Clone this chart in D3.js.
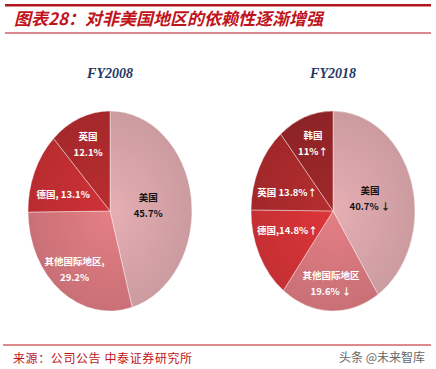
<!DOCTYPE html>
<html>
<head>
<meta charset="utf-8">
<script src="https://cdn.jsdelivr.net/npm/d3@7"></script>
<style>
  html, body { margin: 0; padding: 0; background: #fff; }
  svg { display: block; }
</style>
</head>
<body>
<div id="chart"></div>
<script>
// data
const regions2008 = ['美国', '其他国际地区', '德国', '英国'];
const shares2008 = [45.7, 29.2, 13.1, 12.1];
const labels2008 = [['美国', '45.7%'], ['其他国际地区,', '29.2%'], ['德国, 13.1%'], ['英国', '12.1%']];

const regions2018 = ['美国', '其他国际地区', '德国', '英国', '韩国'];
const shares2018 = [40.7, 19.6, 14.8, 13.8, 11.0];
const labels2018 = [['美国', '40.7% ↓'], ['其他国际地区', '19.6% ↓'], ['德国,14.8%↑'], ['英国 13.8%↑'], ['韩国', '11%↑']];

const colors2008 = ['#d6a3a8', '#d4767c', '#c22e33', '#ad2a2d'];
const colors2018 = ['#d6a3a8', '#d4767c', '#cf3236', '#aa2a2c', '#952527'];

const width = 436, height = 369;

const svg = d3.select('#chart').append('svg')
    .attr('width', width)
    .attr('height', height);

const defs = svg.append('defs');

// header
svg.append('rect').attr('x', 5).attr('y', 4).attr('width', 426).attr('height', 2.5).attr('fill', '#b0141c');
svg.append('text')
    .attr('x', 14).attr('y', 25)
    .attr('font-family', '"Noto Sans CJK SC", sans-serif')
    .attr('font-size', 17)
    .attr('font-weight', 'bold')
    .attr('font-style', 'italic')
    .attr('fill', '#c0141c')
    .text('图表28：对非美国地区的依赖性逐渐增强');
svg.append('rect').attr('x', 5).attr('y', 32.5).attr('width', 426).attr('height', 1).attr('fill', '#b0141c');

// footer
svg.append('rect').attr('x', 3).attr('y', 344.5).attr('width', 428).attr('height', 1).attr('fill', '#c0141c');
svg.append('text')
    .attr('x', 13).attr('y', 363)
    .attr('font-family', '"Noto Sans CJK SC", sans-serif')
    .attr('font-size', 12)
    .attr('letter-spacing', 0.6)
    .attr('fill', '#c0141c')
    .text('来源：公司公告  中泰证券研究所');
svg.append('text')
    .attr('x', 425).attr('y', 362)
    .attr('text-anchor', 'end')
    .attr('font-family', '"Noto Sans CJK SC", sans-serif')
    .attr('font-size', 12)
    .attr('fill', '#666')
    .text('头条 @未来智库');

function drawPie(id, title, cx, cy, names, values, labels, colors) {
    const rx = 82, ry = 100;
    const g = svg.append('g').attr('id', id);

    g.append('text')
        .attr('x', cx).attr('y', 78)
        .attr('text-anchor', 'middle')
        .attr('font-family', '"Liberation Serif", serif')
        .attr('font-size', 14)
        .attr('font-weight', 'bold')
        .attr('font-style', 'italic')
        .attr('fill', '#1f3864')
        .text(title);

    const pie = d3.pie().sort(null).value(d => d)(values);
    const arc = d3.arc().innerRadius(0).outerRadius(ry);

    // shading per slice
    colors.forEach((c, i) => {
        const grad = defs.append('radialGradient')
            .attr('id', id + 'grad' + i)
            .attr('gradientUnits', 'userSpaceOnUse')
            .attr('cx', 0).attr('cy', 0).attr('r', ry);
        grad.append('stop').attr('offset', '0%').attr('stop-color', d3.color(c).brighter(0.2));
        grad.append('stop').attr('offset', '100%').attr('stop-color', d3.color(c).darker(0.15));
    });

    const pg = g.append('g')
        .attr('transform', `translate(${cx},${cy}) scale(${rx / ry},1)`);

    pg.selectAll('path')
        .data(pie)
        .join('path')
        .attr('d', arc)
        .attr('fill', (d, i) => `url(#${id}grad${i})`)
        .attr('stroke', '#fff')
        .attr('stroke-width', 0.4)
        .attr('vector-effect', 'non-scaling-stroke');

    const lg = g.append('g').attr('transform', `translate(${cx},${cy})`);
    pie.forEach((d, i) => {
        const a = (d.startAngle + d.endAngle) / 2;
        const lines = labels[i];
        const k = i === 0 ? 0.47 : (lines.length === 1 ? 0.62 : 0.72);
        const x = Math.sin(a) * rx * k;
        let y = -Math.cos(a) * ry * k;
        if (lines.length === 1) y *= 0.7;
        const t = lg.append('text')
            .attr('x', x)
            .attr('y', y - (lines.length - 1) * 8 + 4)
            .attr('text-anchor', 'middle')
            .attr('font-family', '"Noto Sans CJK SC", sans-serif')
            .attr('font-size', 9.5)
            .attr('font-weight', 'bold')
            .attr('fill', i === 0 ? '#111' : '#fff');
        lines.forEach((s, j) => {
            t.append('tspan')
                .attr('x', x)
                .attr('dy', j === 0 ? 0 : 16)
                .text(s);
        });
    });
}

drawPie('p2008', 'FY2008', 110, 211, regions2008, shares2008, labels2008, colors2008);
drawPie('p2018', 'FY2018', 333, 211, regions2018, shares2018, labels2018, colors2018);
</script>
</body>
</html>
